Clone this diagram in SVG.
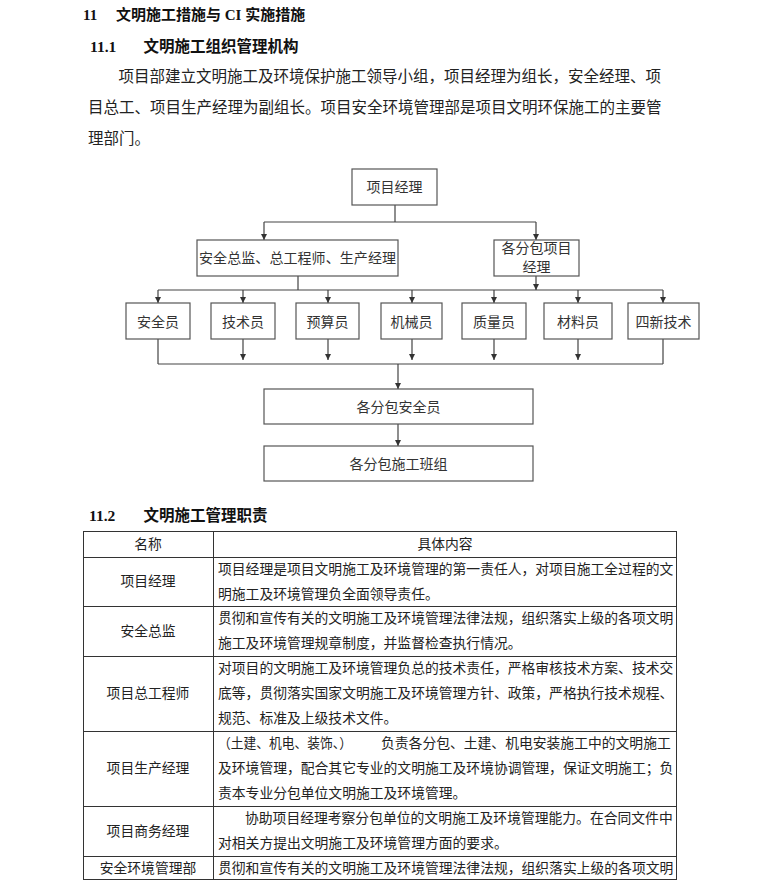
<svg xmlns="http://www.w3.org/2000/svg" width="760" height="887" viewBox="0 0 760 887">
<style>
.h{font-family:"Liberation Serif","Noto Sans CJK SC",serif;font-weight:bold;fill:#111}
.p{font-family:"Noto Sans CJK SC",sans-serif;font-size:15.5px;fill:#222}
.box{fill:#fff;stroke:#555;stroke-width:1.2}
.bt{font-family:"Noto Sans CJK SC",sans-serif;font-size:14px;fill:#333;text-anchor:middle}
.c{fill:none;stroke:#444;stroke-width:1.2}
.a{marker-end:url(#arr)}
.tl{fill:none;stroke:#333;stroke-width:1}
.tt{font-family:"Noto Sans CJK SC",sans-serif;font-size:13.8px;fill:#222}
.tn{font-family:"Noto Sans CJK SC",sans-serif;font-size:13.8px;fill:#222;text-anchor:middle}
</style>
<defs>
<marker id="arr" markerUnits="userSpaceOnUse" markerWidth="7" markerHeight="7" refX="6" refY="3" orient="auto">
<path d="M0,0 L6,3 L0,6 z" fill="#333"/>
</marker>
</defs>
<rect width="760" height="887" fill="#fff"/>

<g id="headings">
<text class="h" x="83" y="19.5" font-size="15">11</text>
<text class="h" x="116" y="19.5" font-size="15">文明施工措施与 CI 实施措施</text>
<text class="h" x="90" y="51.5" font-size="15.5">11.1</text>
<text class="h" x="143.5" y="51.5" font-size="15.5">文明施工组织管理机构</text>
<text class="p" x="118.5" y="81.5">项目部建立文明施工及环境保护施工领导小组，项目经理为组长，安全经理、项</text>
<text class="p" x="88" y="112.5">目总工、项目生产经理为副组长。项目安全环境管理部是项目文明环保施工的主要管</text>
<text class="p" x="88" y="143.5">理部门。</text>
<text class="h" x="89" y="520.5" font-size="15.5">11.2</text>
<text class="h" x="143.5" y="520.5" font-size="15.5">文明施工管理职责</text>
</g>

<g id="connectors">
<path class="c" d="M395,205 V222 M264,222 H536 M298,276 V290 M158,290 H663 M158,339 V364 M663,339 V364 M158,364 H663"/>
<path class="c a" d="M264,222 V240"/>
<path class="c a" d="M536,222 V240"/>
<path class="c a" d="M536,276 V290"/>
<path class="c a" d="M158,290 V303"/>
<path class="c a" d="M243,290 V303"/>
<path class="c a" d="M328,290 V303"/>
<path class="c a" d="M412,290 V303"/>
<path class="c a" d="M494,290 V303"/>
<path class="c a" d="M578,290 V303"/>
<path class="c a" d="M663,290 V303"/>
<path class="c a" d="M243,339 V360"/>
<path class="c a" d="M328,339 V360"/>
<path class="c a" d="M412,339 V360"/>
<path class="c a" d="M494,339 V360"/>
<path class="c a" d="M578,339 V360"/>
<path class="c a" d="M398,364 V389"/>
<path class="c a" d="M398,424 V446"/>
</g>

<g id="n-pm"><rect class="box" x="352" y="169" width="85" height="36"/><text class="bt" x="394.5" y="192">项目经理</text></g>
<g id="n-safety-chief"><rect class="box" x="197" y="240" width="201" height="36"/><text class="bt" x="297.5" y="263" textLength="197">安全总监、总工程师、生产经理</text></g>
<g id="n-sub-pm"><rect class="box" x="494" y="240" width="85" height="36"/><text class="bt" x="536.5" y="253" font-size="13">各分包项目</text><text class="bt" x="536.5" y="272" font-size="13">经理</text></g>

<g id="n-r1"><rect class="box" x="126" y="303" width="64" height="36"/><text class="bt" x="158" y="327">安全员</text></g>
<g id="n-r2"><rect class="box" x="211" y="303" width="64" height="36"/><text class="bt" x="243" y="327">技术员</text></g>
<g id="n-r3"><rect class="box" x="296" y="303" width="63" height="36"/><text class="bt" x="327.5" y="327">预算员</text></g>
<g id="n-r4"><rect class="box" x="381" y="303" width="61" height="36"/><text class="bt" x="411.5" y="327">机械员</text></g>
<g id="n-r5"><rect class="box" x="462" y="303" width="64" height="36"/><text class="bt" x="494" y="327">质量员</text></g>
<g id="n-r6"><rect class="box" x="544" y="303" width="68" height="36"/><text class="bt" x="578" y="327">材料员</text></g>
<g id="n-r7"><rect class="box" x="628" y="303" width="71" height="36"/><text class="bt" x="663.5" y="327">四新技术</text></g>

<g id="n-sub-safety"><rect class="box" x="264" y="389" width="269" height="35"/><text class="bt" x="398.5" y="411.5">各分包安全员</text></g>
<g id="n-sub-team"><rect class="box" x="264" y="446" width="269" height="35"/><text class="bt" x="398.5" y="468.5">各分包施工班组</text></g>

<g id="table">
<rect class="tl" x="83.5" y="531.5" width="593" height="348"/>
<path class="tl" d="M213.5,531.5 V879.5 M83.5,557.5 H676.5 M83.5,606.5 H676.5 M83.5,656.5 H676.5 M83.5,731.5 H676.5 M83.5,806.5 H676.5 M83.5,856.5 H676.5"/>
<text class="tn" x="148" y="549">名称</text>
<text class="tn" x="445" y="549">具体内容</text>

<text class="tn" x="148" y="586">项目经理</text>
<text class="tt" x="218" y="574">项目经理是项目文明施工及环境管理的第一责任人，对项目施工全过程的文</text>
<text class="tt" x="218" y="599">明施工及环境管理负全面领导责任。</text>

<text class="tn" x="148" y="636">安全总监</text>
<text class="tt" x="218" y="623">贯彻和宣传有关的文明施工及环境管理法律法规，组织落实上级的各项文明</text>
<text class="tt" x="218" y="648">施工及环境管理规章制度，并监督检查执行情况。</text>

<text class="tn" x="148" y="698">项目总工程师</text>
<text class="tt" x="218" y="673">对项目的文明施工及环境管理负总的技术责任，严格审核技术方案、技术交</text>
<text class="tt" x="218" y="698">底等，贯彻落实国家文明施工及环境管理方针、政策，严格执行技术规程、</text>
<text class="tt" x="218" y="723">规范、标准及上级技术文件。</text>

<text class="tn" x="148" y="773">项目生产经理</text>
<text class="tt" x="218" y="748" textLength="134" lengthAdjust="spacingAndGlyphs">（土建、机电、装饰、）</text>
<text class="tt" x="381" y="748">负责各分包、土建、机电安装施工中的文明施工</text>
<text class="tt" x="218" y="773">及环境管理，配合其它专业的文明施工及环境协调管理，保证文明施工；负</text>
<text class="tt" x="218" y="798">责本专业分包单位文明施工及环境管理。</text>

<text class="tn" x="148" y="836">项目商务经理</text>
<text class="tt" x="245" y="823">协助项目经理考察分包单位的文明施工及环境管理能力。在合同文件中</text>
<text class="tt" x="218" y="848">对相关方提出文明施工及环境管理方面的要求。</text>

<text class="tn" x="148" y="873">安全环境管理部</text>
<text class="tt" x="218" y="873">贯彻和宣传有关的文明施工及环境管理法律法规，组织落实上级的各项文明</text>
</g>
</svg>
